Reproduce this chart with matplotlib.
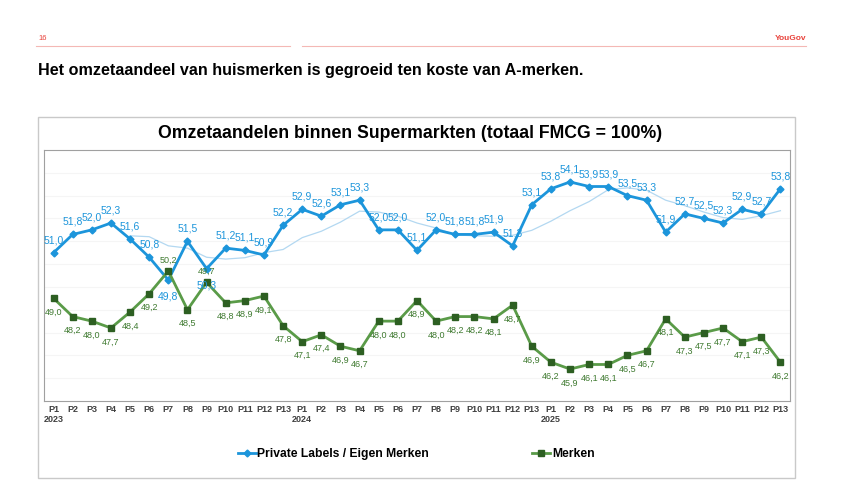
import matplotlib
matplotlib.use("Agg")
import matplotlib.pyplot as plt
from matplotlib.patches import Rectangle
from matplotlib.lines import Line2D
import numpy as np
import pandas as pd

plt.rcParams["font.family"] = ["Liberation Sans", "DejaVu Sans"]

BLUE = "#1c95db"
BLUE_LIGHT = "#b3d8f1"
GREEN = "#5a9b48"
GREEN_DARK = "#2d5f22"
GREEN_TXT = "#3f7a30"
RED = "#e8413a"

# ---------------------------------------------------------------- data
periods = [f"P{i}" for i in range(1, 14)] * 3
years = ["2023", "2024", "2025"]

private_labels = [
    51.0, 51.8, 52.0, 52.3, 51.6, 50.8, 49.8, 51.5, 50.3, 51.2, 51.1, 50.9, 52.2,
    52.9, 52.6, 53.1, 53.3, 52.0, 52.0, 51.1, 52.0, 51.8, 51.8, 51.9, 51.3, 53.1,
    53.8, 54.1, 53.9, 53.9, 53.5, 53.3, 51.9, 52.7, 52.5, 52.3, 52.9, 52.7, 53.8,
]
merken = [
    49.0, 48.2, 48.0, 47.7, 48.4, 49.2, 50.2, 48.5, 49.7, 48.8, 48.9, 49.1, 47.8,
    47.1, 47.4, 46.9, 46.7, 48.0, 48.0, 48.9, 48.0, 48.2, 48.2, 48.1, 48.7, 46.9,
    46.2, 45.9, 46.1, 46.1, 46.5, 46.7, 48.1, 47.3, 47.5, 47.7, 47.1, 47.3, 46.2,
]

# Excel-style 5-period moving average trendline on the private label series
trend = pd.Series(private_labels).rolling(5).mean()

# ---------------------------------------------------------------- figure
fig = plt.figure(figsize=(8.54, 4.8), dpi=100)

# slide header
fig.text(38 / 854, 1 - 39 / 480, "16", color=RED, fontsize=5.5, va="center")
fig.text(806 / 854, 1 - 39 / 480, "YouGov", color=RED, fontsize=6, fontweight="bold",
         va="center", ha="right")
fig.add_artist(Line2D([36 / 854, 290 / 854], [1 - 46 / 480] * 2, color="#f4b8b5", lw=0.8))
fig.add_artist(Line2D([302 / 854, 806 / 854], [1 - 46 / 480] * 2, color="#f4b8b5", lw=0.8))
fig.text(38 / 854, 1 - 70 / 480,
         "Het omzetaandeel van huismerken is gegroeid ten koste van A-merken.",
         fontsize=11.6, fontweight="bold", va="center")

# chart box
fig.add_artist(Rectangle((38 / 854, 2 / 480), (795 - 38) / 854, (478 - 117) / 480,
                         transform=fig.transFigure, fill=False, ec="#c9c9c9", lw=1))
fig.text(410 / 854, 1 - 133 / 480,
         "Omzetaandelen binnen Supermarkten (totaal FMCG = 100%)",
         fontsize=12.7, fontweight="bold", ha="center", va="center")

ax = fig.add_axes([44 / 854, 79 / 480, 746 / 854, 251 / 480])
x = np.arange(len(periods))

ax.plot(x, trend, color=BLUE_LIGHT, lw=0.9, zorder=1)
ax.plot(x, private_labels, color=BLUE, lw=2, marker="D", ms=3.5, zorder=3,
        label="Private Labels / Eigen Merken")
ax.plot(x, merken, color=GREEN, lw=2, marker="s", ms=5, mfc=GREEN_DARK, mec=GREEN_DARK,
        zorder=3, label="Merken")

for xi, p, m in zip(x, private_labels, merken):
    swap = abs(p - m) < 1.0
    ax.annotate(f"{p:.1f}".replace(".", ","), (xi, p), xytext=(0, -12 if swap else 9),
                textcoords="offset points", ha="center", va="center",
                fontsize=7.5, color=BLUE)
    ax.annotate(f"{m:.1f}".replace(".", ","), (xi, m), xytext=(0, 8 if swap else -10),
                textcoords="offset points", ha="center", va="center",
                fontsize=6.5, color=GREEN_TXT)

ax.set_xlim(-0.5, len(periods) - 0.5)
ax.set_ylim(44.5, 55.5)
ax.set_yticks(np.arange(45.5, 55.5, 1.0))
ax.tick_params(axis="y", left=False, labelleft=False)
ax.grid(axis="y", color="#f5f5f5", lw=0.8)
ax.set_axisbelow(True)
ax.set_xticks(x)
ax.set_xticklabels([])
ax.tick_params(axis="x", length=0)
for s in ax.spines.values():
    s.set_color("#a0a0a0")
    s.set_linewidth(0.8)

for xi, lab in zip(x, periods):
    ax.text(xi, -0.035, lab, transform=ax.get_xaxis_transform(), ha="center", va="center",
            fontsize=6.5, fontweight="bold", color="#404040")
for i, yr in enumerate(years):
    ax.text(i * 13, -0.075, yr, transform=ax.get_xaxis_transform(), ha="center", va="center",
            fontsize=6.5, fontweight="bold", color="#404040")

handles, labels = ax.get_legend_handles_labels()
fig.legend(handles, labels, loc="center", bbox_to_anchor=(416 / 854, 1 - 454 / 480),
           ncol=2, frameon=False, columnspacing=8.5, handlelength=1.5, handletextpad=0.15,
           prop={"size": 8.7, "weight": "bold"})

fig.savefig("out.png", dpi=100)
